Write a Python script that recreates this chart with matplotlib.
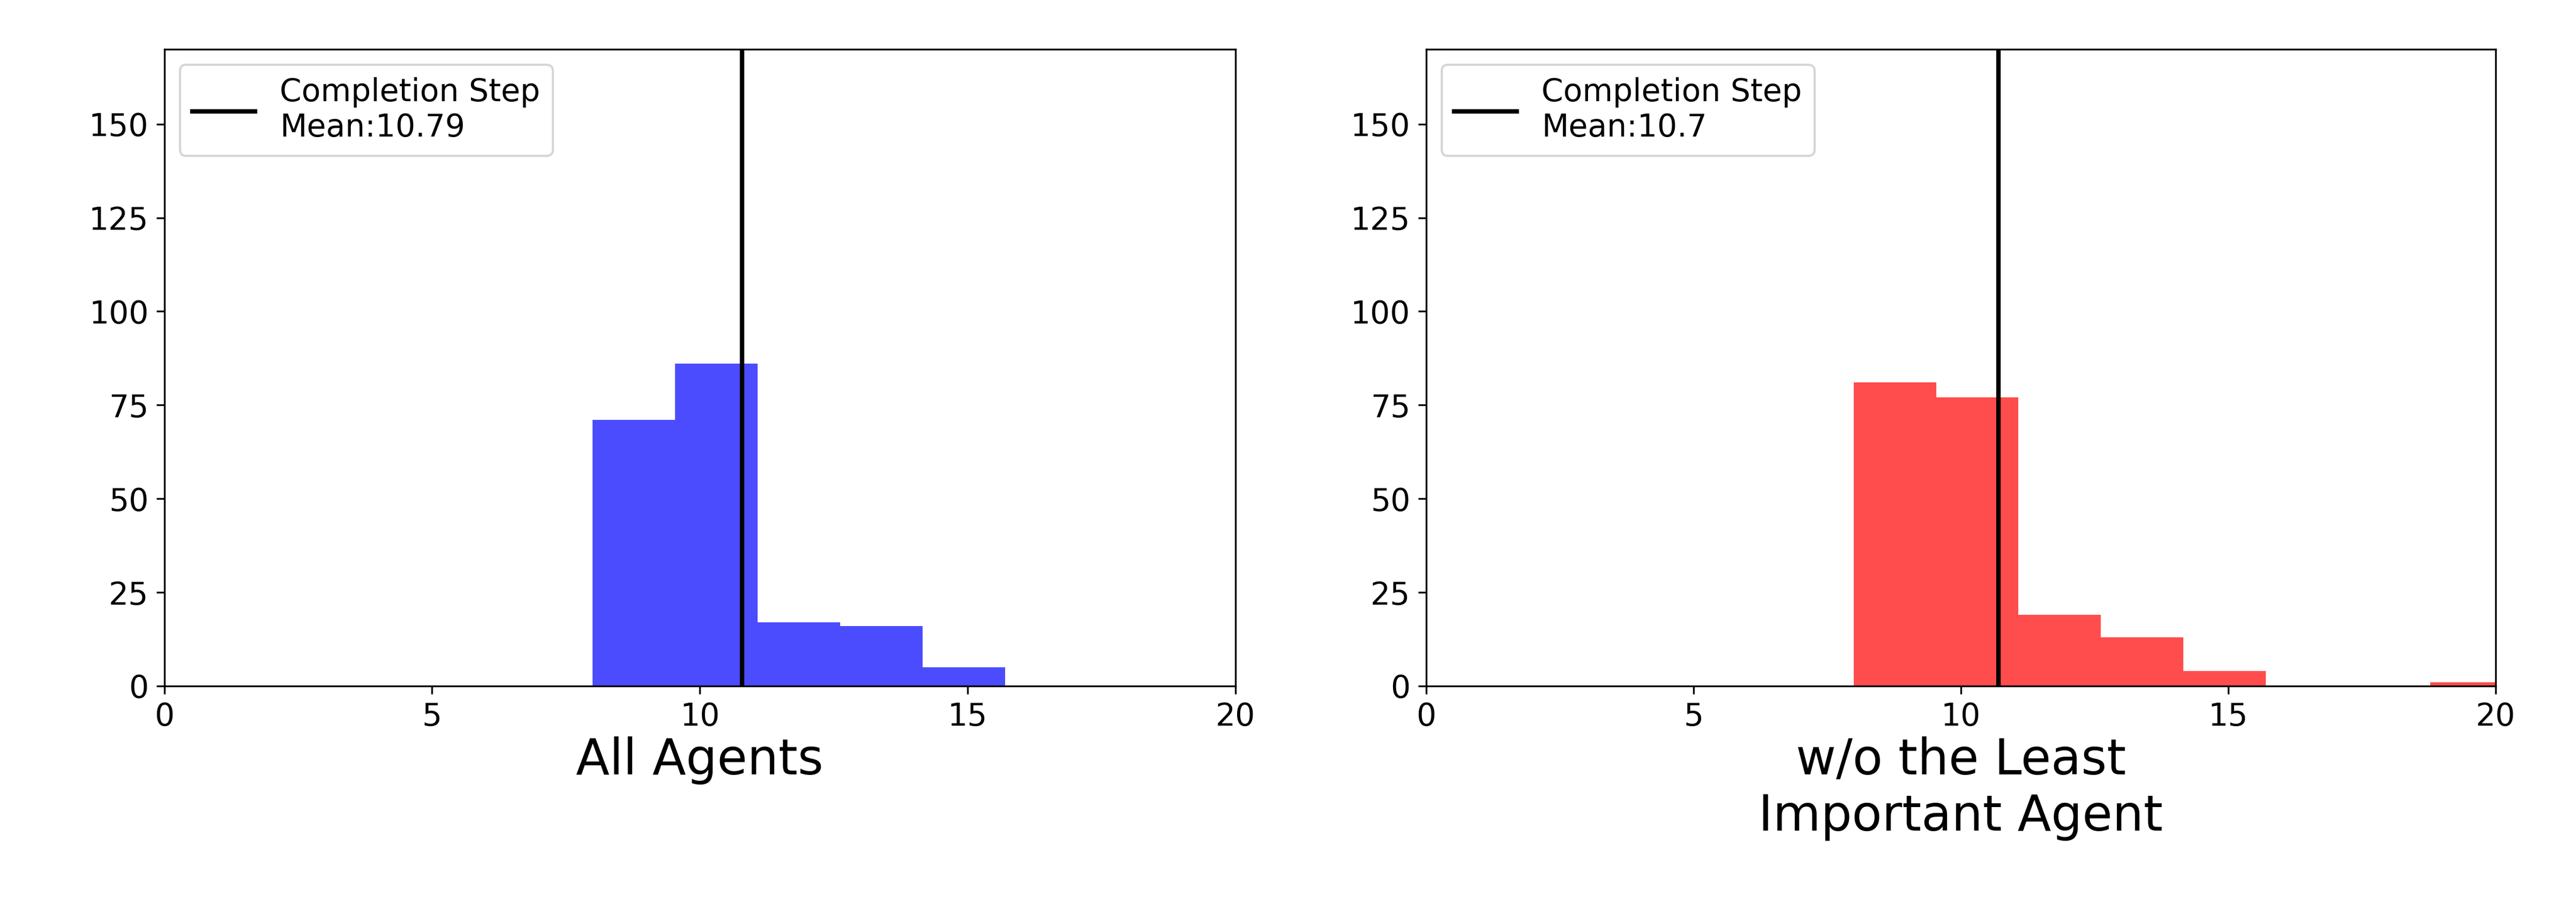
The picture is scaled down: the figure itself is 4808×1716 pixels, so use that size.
import numpy as np
import matplotlib
matplotlib.use("Agg")
import matplotlib.pyplot as plt

# histogram data
bin_edges = [8.0, 9.54, 11.08, 12.62, 14.16, 15.70, 17.24, 18.78, 20.32]
counts_all = [71, 86, 17, 16, 5, 0, 0, 0]
counts_wo = [81, 77, 19, 13, 4, 0, 0, 1]
mean_all = 10.79
mean_wo = 10.7
titles = ["All Agents", "w/o the Least\nImportant Agent"]

fig = plt.figure(figsize=(4808 / 300, 1716 / 300), dpi=300)
W, H = 1568, 560
ax1 = fig.add_axes([100 / W, 1 - 418 / H, 652 / W, 388 / H])
ax2 = fig.add_axes([868 / W, 1 - 418 / H, 651 / W, 388 / H])

edges = np.array(bin_edges)
centers = (edges[:-1] + edges[1:]) / 2

for ax, counts, mean, color, title in [
    (ax1, counts_all, mean_all, "blue", titles[0]),
    (ax2, counts_wo, mean_wo, "red", titles[1]),
]:
    ax.hist(centers, bins=edges, weights=counts, color=color, alpha=0.7)
    ax.axvline(mean, color="black", linewidth=2,
               label=f"Completion Step\nMean:{mean}")
    ax.set_xlim(0, 20)
    ax.set_ylim(0, 170)
    ax.set_xticks([0, 5, 10, 15, 20])
    ax.set_yticks([0, 25, 50, 75, 100, 125, 150])
    ax.tick_params(labelsize=14)
    ax.set_xlabel(title, fontsize=22, labelpad=2)
    ax.legend(loc="upper left", fontsize=14)

fig.savefig("out.png", dpi=300)
